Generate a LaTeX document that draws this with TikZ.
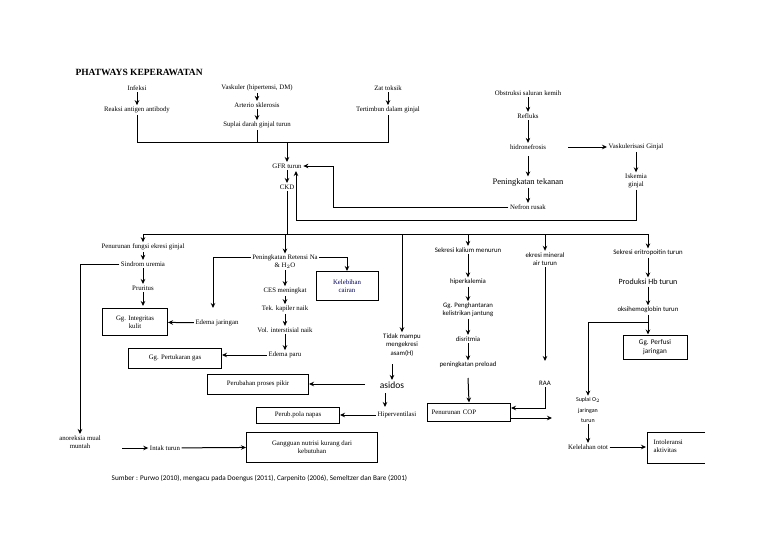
\documentclass[tikz,border=0pt]{standalone}
\usepackage{fontspec}
\setmainfont{Liberation Serif}
\newfontfamily\sansf{Carlito}
\usetikzlibrary{arrows.meta}
\newcommand\myva[2]{\draw[ar] (#1.south) -- (#1.south |- #2.north);}
\begin{document}
\begin{tikzpicture}[x=1pt,y=-1pt,
  t/.style={font=\fontsize{6.8}{7.8}\selectfont,inner sep=1.5pt,align=center},
  s/.style={font=\sansf\fontsize{6.8}{8.2}\selectfont,inner sep=1.5pt,align=center},
  bx/.style={draw,line width=1pt,font=\fontsize{6.8}{7.8}\selectfont,align=center,minimum height=19pt},
  ln/.style={draw=black,line width=1pt},
  ar/.style={ln,-{Stealth[length=5pt,width=4.5pt]}}]
\useasboundingbox (0,0) rectangle (768,543);
\node[anchor=west,font=\bfseries\fontsize{9.5}{11}\selectfont] (title) at (72,72) {PHATWAYS KEPERAWATAN};
% top causes
\node[t] (infk) at (137,88) {Infeksi};
\node[t] (reak) at (137,110) {Reaksi antigen antibody};
\node[t] (vas) at (257,88) {Vaskuler (hipertensi, DM)};
\node[t] (art) at (257,105) {Arterio sklerosis};
\node[t] (sup) at (257,125) {Suplai darah ginjal turun};
\node[t] (zat) at (388,88) {Zat toksik};
\node[t] (ter) at (388,110) {Tertimbun dalam ginjal};
\myva{infk}{reak}
\myva{vas}{art}
\myva{art}{sup}
\myva{zat}{ter}
\coordinate (j1) at (137,142); \coordinate (j3) at (388,142);
\draw[ln] (reak.south) -- (j1) -- (j3) -- (ter.south);
\draw[ln] (sup.south) -- (257,142);
\node[t] (gfr) at (287,166) {GFR turun};
\node[t] (ckd) at (287,187) {CKD};
\draw[ar] (287,142) -- (gfr.north);
\myva{gfr}{ckd}
% obstruction
\node[t] (obs) at (528,93) {Obstruksi saluran kemih};
\node[t] (refl) at (528,116) {Refluks};
\node[t] (hid) at (528,147) {hidronefrosis};
\node[t] (vsk) at (636,147) {Vaskulerisasi Ginjal};
\node[t] (isk) at (636,181) {Iskemia\\ginjal};
\node[t,font=\fontsize{8.5}{9.5}\selectfont] (ptek) at (528,182) {Peningkatan tekanan};
\node[t] (nef) at (528,207) {Nefron rusak};
\myva{obs}{refl}
\draw[ar] (refl.south) -- (refl.south |- hid.north);
\draw[ar] (568,147) -- (vsk.west);
\myva{vsk}{isk}
\draw[ar] (hid.south) ++(0,5) -- (ptek.north);
\myva{ptek}{nef}
\draw[ar] (nef.west) -- (333,207) -- (333,166) -- (gfr.east);
\draw[ar] (isk.south) -- (636,220) -- (296,220) -- (296,171);
% main bar
\draw[ln] (ckd.south) -- (287,234);
\draw[ln] (143,234) -- (648,234);
\node[t] (pfe) at (143,247) {Penurunan fungsi ekresi ginjal};
\node[t] (sin) at (143,264) {Sindrom uremia};
\node[t] (pru) at (143,288) {Pruritus};
\node[bx,minimum width=65pt,minimum height=27pt] (int) at (135,322) {Gg. Integritas\\kulit};
\draw[ar] (143,234) -- (pfe.north);
\myva{pfe}{sin}
\myva{sin}{pru}
\draw[ar] (pru.south) -- (143,306);
\node[t] (ano) at (80,442) {anoreksia mual\\muntah};
\draw[ar] (sin.west) -- (80,264) -- (ano.north);
\node[t] (itk) at (165,448) {Intak turun};
\node[bx,minimum width=131pt,minimum height=30pt] (nut) at (312,447) {Gangguan nutrisi kurang dari\\kebutuhan};
\draw[ar] (122,448) -- (itk.west);
\draw[ar] (itk) -- (nut);
% retensi
\node[t] (ret) at (285,262) {Peningkatan Retensi Na\\\& H$_2$O};
\draw[ar] (285,234) -- (ret.north);
\node[bx,minimum width=62pt,minimum height=29pt,text=blue!40!black] (kel) at (347,286) {Kelebihan\\cairan};
\draw[ar] (ret.east |- 0,257) -- (347,257) -- (kel.north);
\node[t] (edj) at (217,323) {Edema jaringan};
\draw[ar] (ret.west |- 0,257) -- (213,257) -- (213,308);
\draw[ar] (edj) -- (int);
\node[t] (ces) at (285,291) {CES meningkat};
\node[t] (tek) at (285,309) {Tek. kapiler naik};
\node[t] (vol) at (285,330) {Vol. interstisial naik};
\node[t] (edp) at (285,355) {Edema paru};
\myva{ret}{ces}
\myva{ces}{tek}
\myva{tek}{vol}
\myva{vol}{edp}
\node[bx,minimum width=93pt,minimum height=20pt] (gas) at (175,358) {Gg. Pertukaran gas};
\draw[ar] (edp.west) -- (gas.east |- edp.west);
% asam
\node[s] (tid) at (402,345) {Tidak mampu\\mengekresi\\asam(H)};
\draw[ar] (402,234) -- (tid.north);
\node[s,font=\sansf\fontsize{9.5}{10}\selectfont] (asi) at (392,385) {asidos};
\draw[ar] (392,364) -- (asi.north);
\node[bx,minimum width=101pt,minimum height=20pt] (pik) at (258,384) {Perubahan proses pikir};
\draw[ar] (365,384) -- (pik.east);
\node[t] (hip) at (397,415) {Hiperventilasi};
\draw[ar] (385,393) -- (385,407);
\node[bx,minimum width=83pt,minimum height=16pt] (pol) at (298,415) {Perub.pola napas};
\draw[ar] (hip) -- (pol);
% kalium
\node[s] (kal) at (468,250) {Sekresi kalium menurun};
\node[s] (hpk) at (468,282) {hiperkalemia};
\node[s] (gph) at (468,310) {Gg. Penghantaran\\kelistrikan jantung};
\node[s] (dis) at (468,339) {disritmia};
\node[s] (pre) at (468,365) {peningkatan preload};
\node[bx,minimum width=83pt,minimum height=18pt,text width=75pt,align=left] (cop) at (469,412) {Penurunan COP};
\draw[ar] (468,234) -- (kal.north);
\myva{kal}{hpk}
\myva{hpk}{gph}
\myva{gph}{dis}
\myva{dis}{pre}
\draw[ar] (468,378) -- (cop.north);
% mineral
\node[s] (min) at (545,259) {ekresi mineral\\air turun};
\node[s] (raa) at (545,383) {RAA};
\draw[ar] (545,234) -- (min.north);
\draw[ar] (min.south) -- (545,361);
\draw[ar] (raa.south) -- (545,408) -- (cop.east |- 0,408);
\draw[ar] (cop.east |- 0,418) -- (552,418);
% eritropoitin
\node[s] (eri) at (648,253) {Sekresi eritropoitin turun};
\node[s,font=\sansf\fontsize{8}{9}\selectfont] (hb) at (648,282) {Produksi Hb turun};
\node[s] (oks) at (648,310) {oksihemoglobin turun};
\node[bx,font=\sansf\fontsize{7.2}{9}\selectfont,minimum width=64pt,minimum height=24pt] (per) at (655,347) {Gg. Perfusi\\jaringan};
\draw[ar] (648,234) -- (eri.north);
\myva{eri}{hb}
\myva{hb}{oks}
\draw[ar] (oks.south) -- (oks.south |- per.north);
\node[s,font=\sansf\fontsize{6}{10.5}\selectfont] (o2) at (588,410) {Suplai O$_2$\\jaringan\\turun};
\draw[ar] (648,322) -- (588,322) -- (o2.north);
\node[t] (otot) at (588,447) {Kelelahan otot};
\myva{o2}{otot}
\draw[line width=1pt] (705,432) -- (647,432) -- (647,463) -- (705,463);
\node[t,anchor=west,align=left] (ito) at (652,446) {Intoleransi\\aktivitas};
\draw[ar] (otot) -- (646,447);
\node[s,anchor=west,font=\sansf\fontsize{7.2}{8}\selectfont] (src) at (110,478) {Sumber : Purwo (2010), mengacu pada Doengus (2011), Carpenito (2006), Semeltzer dan Bare (2001)};
\end{tikzpicture}
\end{document}
